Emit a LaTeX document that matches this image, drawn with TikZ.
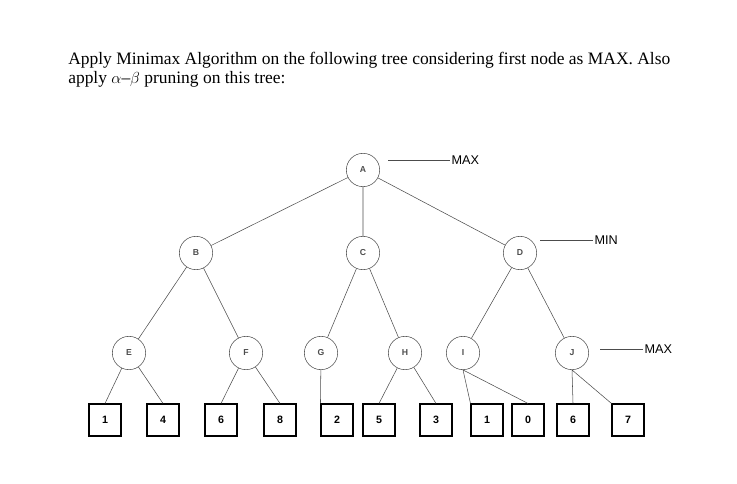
\documentclass[tikz,border=0pt]{standalone}
\usepackage{fontspec}
\setmainfont{Liberation Serif}
\setsansfont{Liberation Sans}
\begin{document}
\begin{tikzpicture}[x=0.75pt,y=-0.75pt,
    inner/.style={draw=black!70, circle, minimum size=25pt, inner sep=0pt, font=\sffamily\bfseries\fontsize{6.5}{6.5}\selectfont},
    leaf/.style={draw, thick, rectangle, minimum size=24pt, inner sep=0pt, font=\sffamily\bfseries\fontsize{8}{8}\selectfont},
    level/.style={font=\sffamily\fontsize{9.5}{9.5}\selectfont, anchor=west, inner sep=1pt}]
    \useasboundingbox (0,0) rectangle (737,484);

    % question
    \node[anchor=west, align=left, font=\fontsize{13.1}{14.5}\selectfont, inner sep=0pt] (q) at (68,70)
        {Apply Minimax Algorithm on the following tree considering first node as MAX. Also\\apply $\alpha$--$\beta$ pruning on this tree:};

    % inner nodes
    \draw[black!70]
    (363,170)node[inner](nA){A}
    (196,253)node[inner](nB){B}
    (363,253)node[inner](nC){C}
    (520,253)node[inner](nD){D}
    (129,353)node[inner](nE){E}
    (246,353)node[inner](nF){F}
    (321,353)node[inner](nG){G}
    (405,353)node[inner](nH){H}
    (463,353)node[inner](nI){I}
    (572,353)node[inner](nJ){J};

    % leaves
    \draw
    (105,420)node[leaf](l1){1}
    (163,420)node[leaf](l2){4}
    (221,420)node[leaf](l3){6}
    (280,420)node[leaf](l4){8}
    (337,420)node[leaf](l5){2}
    (379,420)node[leaf](l6){5}
    (436,420)node[leaf](l7){3}
    (487,420)node[leaf](l8){1}
    (528,420)node[leaf](l9){0}
    (573,420)node[leaf](l10){6}
    (628,420)node[leaf](l11){7};

    % edges
    \draw[black!70]
    (nA)--(nB) (nA)--(nC) (nA)--(nD)
    (nB)--(nE) (nB)--(nF) (nC)--(nG) (nC)--(nH) (nD)--(nI) (nD)--(nJ)
    (nE)--(l1.north) (nE)--(l2.north) (nF)--(l3.north) (nF)--(l4.north)
    (nG)--(l5.north west) (nH)--(l6.north) (nH)--(l7.north)
    (nI.south)--(l8.north west) (nI.south)--(l9.north)
    (nJ.south)--(l10.north) (nJ.south)--(l11.north west);

    % level labels
    \node[level](m1) at (450,160){MAX};
    \node[level](m2) at (593,240){MIN};
    \node[level](m3) at (643,349){MAX};
    \draw[black!70] (388,160)--(m1.west) (540,240)--(m2.west) (600,349)--(m3.west);
\end{tikzpicture}
\end{document}
